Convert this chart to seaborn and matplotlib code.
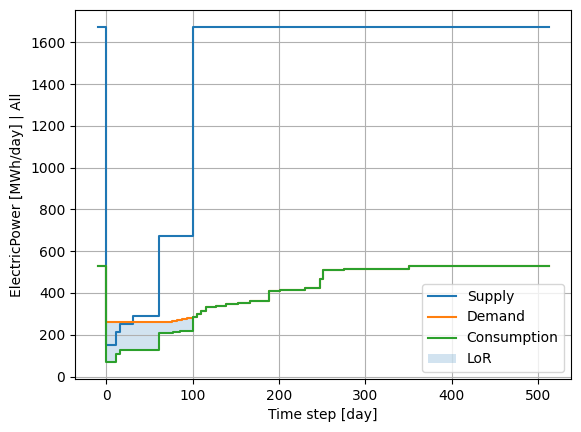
import numpy as np
import pandas as pd
import matplotlib
matplotlib.use("Agg")
import matplotlib.pyplot as plt
import seaborn as sns

# Step change points (day, value)
supply_t = [-10, 0, 11, 16, 31, 61, 101, 512]
supply_v = [1675, 150, 212, 252, 292, 675, 1675, 1675]

demand_t = [-10, 0, 76, 82, 88, 94, 100]
demand_v = [527, 260, 265, 270, 275, 280, 284]

cons_t = [-10, 0, 11, 16, 61, 77, 85, 101, 105, 110, 116, 127, 139, 153, 166,
          189, 201, 210, 230, 245, 248, 251, 275, 350, 512]
cons_v = [527, 69, 109, 128, 207, 212, 220, 284, 297, 316, 332, 337, 345, 354, 362,
          409, 412, 415, 423, 426, 468, 508, 514, 527, 527]

grid = sorted(set(supply_t) | set(demand_t) | set(cons_t))
df = pd.DataFrame(index=grid)
df["Supply"] = pd.Series(supply_v, index=supply_t)
df["Consumption"] = pd.Series(cons_v, index=cons_t)
df["Demand"] = pd.Series(demand_v, index=demand_t)
df = df.ffill()
# after day 100 demand is fully met -> equals consumption
df.loc[df.index > 100, "Demand"] = df.loc[df.index > 100, "Consumption"]
df.index.name = "t"
df = df.reset_index()

fig, ax = plt.subplots(figsize=(5.81, 4.32), dpi=100)
fig.subplots_adjust(left=0.129, right=0.983, bottom=0.123, top=0.977)

pal = sns.color_palette("tab10")
sns.lineplot(data=df, x="t", y="Supply", ax=ax, color=pal[0], label="Supply",
             drawstyle="steps-post", sort=False, estimator=None)
sns.lineplot(data=df, x="t", y="Demand", ax=ax, color=pal[1], label="Demand",
             drawstyle="steps-post", sort=False, estimator=None)
sns.lineplot(data=df, x="t", y="Consumption", ax=ax, color=pal[2], label="Consumption",
             drawstyle="steps-post", sort=False, estimator=None)
ax.fill_between(df["t"], df["Consumption"], df["Demand"], step="post",
                color=pal[0], alpha=0.2, linewidth=0, label="LoR")

ax.grid(True)
ax.set_xlabel("Time step [day]")
ax.set_ylabel("ElectricPower [MWh/day] | All")
ax.legend(loc="lower right")
fig.savefig("out.png", dpi=100)
